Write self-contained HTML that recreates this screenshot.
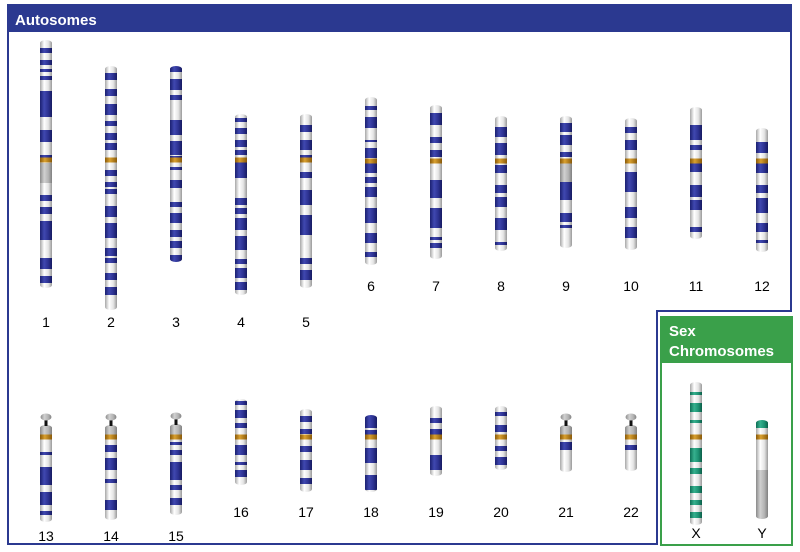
<!DOCTYPE html>
<html><head><meta charset="utf-8"><style>
html,body{margin:0;padding:0;background:#fff;}
svg{display:block;font-family:"Liberation Sans",sans-serif;}
</style></head><body>
<svg id="s" width="800" height="552" viewBox="0 0 800 552" xmlns="http://www.w3.org/2000/svg">
<defs>
<linearGradient id="gw" x1="0" x2="1" y1="0" y2="0"><stop offset="0" stop-color="#a8a8a8"/><stop offset="0.35" stop-color="#ffffff"/><stop offset="0.7" stop-color="#e4e4e4"/><stop offset="1" stop-color="#9a9a9a"/></linearGradient>
<linearGradient id="gb" x1="0" x2="1" y1="0" y2="0"><stop offset="0" stop-color="#1b2070"/><stop offset="0.35" stop-color="#4048b0"/><stop offset="0.7" stop-color="#2c3190"/><stop offset="1" stop-color="#161a60"/></linearGradient>
<linearGradient id="gg" x1="0" x2="1" y1="0" y2="0"><stop offset="0" stop-color="#0e6e55"/><stop offset="0.35" stop-color="#36b08e"/><stop offset="0.7" stop-color="#1c9172"/><stop offset="1" stop-color="#0c5e48"/></linearGradient>
<linearGradient id="gy" x1="0" x2="1" y1="0" y2="0"><stop offset="0" stop-color="#8a8a8a"/><stop offset="0.35" stop-color="#d0d0d0"/><stop offset="0.7" stop-color="#b4b4b4"/><stop offset="1" stop-color="#808080"/></linearGradient>
<linearGradient id="go" x1="0" x2="1" y1="0" y2="0"><stop offset="0" stop-color="#8a5a08"/><stop offset="0.4" stop-color="#d9a030"/><stop offset="1" stop-color="#8a5a08"/></linearGradient>
</defs>
<path d="M8,5 H791 V311 H657 V544 H8 Z" fill="none" stroke="#2b3990" stroke-width="2"/>
<rect x="8" y="5" width="783" height="27" fill="#2b3990"/>
<text x="15" y="25" fill="#fff" font-size="15" font-weight="bold">Autosomes</text>
<rect x="661" y="317" width="131" height="228" fill="none" stroke="#3aa04a" stroke-width="2"/>
<rect x="661" y="317" width="131" height="46" fill="#3aa04a"/>
<text x="669" y="336" fill="#fff" font-size="15" font-weight="bold">Sex</text>
<text x="669" y="356" fill="#fff" font-size="15" font-weight="bold">Chromosomes</text>
<g font-size="14" fill="#000" text-anchor="middle">
<text x="46" y="327">1</text><text x="111" y="327">2</text><text x="176" y="327">3</text><text x="241" y="327">4</text><text x="306" y="327">5</text>
<text x="371" y="291">6</text><text x="436" y="291">7</text><text x="501" y="291">8</text><text x="566" y="291">9</text><text x="631" y="291">10</text><text x="696" y="291">11</text><text x="762" y="291">12</text>
<text x="46" y="541">13</text><text x="111" y="541">14</text><text x="176" y="541">15</text>
<text x="241" y="517">16</text><text x="306" y="517">17</text><text x="371" y="517">18</text><text x="436" y="517">19</text><text x="501" y="517">20</text><text x="566" y="517">21</text><text x="631" y="517">22</text>
<text x="696" y="538">X</text><text x="762" y="538">Y</text>
</g>
<g id="chr"></g>
</svg>
<script>
var C=[
[46,40,288,160,[[48,53],[60,65],[69,72],[76,80],[91,117],[130,142],[155,158],[195,201],[207,214],[221,240],[258,269],[276,283]],[[163,183]]],
[111,66,310,160,[[73,80],[89,96],[104,115],[121,126],[133,140],[143,150],[170,176],[182,187],[189,194],[206,217],[223,238],[248,256],[258,263],[273,280],[287,295]]],
[176,66,262,160,[[66,72],[79,90],[95,100],[120,135],[141,155],[156,158],[167,170],[180,188],[202,207],[213,223],[230,237],[241,248],[255,262]]],
[241,114,295,160,[[118,122],[128,134],[140,147],[150,155],[162,178],[198,205],[208,214],[218,230],[236,250],[259,264],[268,278],[282,290]]],
[306,114,288,160,[[125,132],[140,150],[155,158],[172,178],[190,205],[215,235],[258,264],[270,280]]],
[371,97,265,161,[[106,110],[117,128],[140,142],[148,158],[163,173],[177,183],[187,197],[208,223],[233,243],[252,257]]],
[436,105,259,161,[[113,125],[137,143],[150,157],[180,198],[208,228],[237,240],[243,248]]],
[501,116,251,161,[[127,137],[143,155],[165,173],[185,193],[197,207],[218,230],[242,245]]],
[566,116,248,161,[[123,132],[135,145],[152,157],[182,200],[213,222],[225,228]],[[163,182]]],
[631,118,250,161,[[127,133],[140,150],[172,192],[207,218],[227,238]]],
[696,107,239,161,[[125,140],[145,150],[162,172],[185,197],[200,210],[227,232]]],
[762,128,252,161,[[142,153],[162,173],[185,193],[198,213],[223,232],[240,243]]],
[46,425,522,437,[[452,455],[467,485],[492,505],[511,515]],null,1],
[111,425,520,437,[[445,452],[458,470],[479,483],[500,510]],null,1],
[176,424,515,437,[[442,445],[450,455],[462,480],[485,490],[498,505]],null,1],
[241,399,485,437,[[401,405],[410,418],[423,428],[445,455],[462,465],[470,477]]],
[306,409,492,437,[[416,422],[429,434],[446,452],[460,470],[478,484]]],
[371,415,492,437,[[415,428],[430,435],[448,463],[475,490]]],
[436,406,476,437,[[418,423],[429,435],[455,470]]],
[501,406,470,437,[[412,416],[425,432],[446,451],[457,465]]],
[566,425,472,437,[[442,450]],null,1],
[631,425,471,437,[[445,450]],null,1],
[696,382,525,437,[[392,395],[403,412],[420,423],[448,462],[468,474],[486,493],[500,505],[512,518]],null,0,'gg'],
[762,420,519,437,[[420,428]],[[470,519]],0,'gg']
];
var ns="http://www.w3.org/2000/svg",g=document.getElementById('chr'),h='';
C.forEach(function(c,i){
 var x=c[0]-6,t=c[1],b=c[2],ce=c[3],col=c[7]||'gb';
 h+='<clipPath id="c'+i+'"><rect x="'+x+'" y="'+t+'" width="12" height="'+(b-t)+'" rx="6" ry="3"/></clipPath>';
 var s='<g clip-path="url(#c'+i+')"><rect x="'+x+'" y="'+t+'" width="12" height="'+(b-t)+'" fill="url(#gw)"/>';
 (c[5]||[]).forEach(function(r){s+='<rect x="'+x+'" y="'+r[0]+'" width="12" height="'+(r[1]-r[0])+'" fill="url(#gy)"/>';});
 c[4].forEach(function(r){s+='<rect x="'+x+'" y="'+r[0]+'" width="12" height="'+(r[1]-r[0])+'" fill="url(#'+col+')"/>';});
 if(c[6]){s+='<rect x="'+x+'" y="'+t+'" width="12" height="'+(ce-t-2)+'" fill="url(#gy)"/>';}
 s+='<rect x="'+x+'" y="'+(ce-2.5)+'" width="12" height="5" fill="url(#go)"/></g>';
 if(c[6]){s+='<rect x="'+(c[0]-1.5)+'" y="'+(t-6)+'" width="3" height="7" fill="#111"/><ellipse cx="'+c[0]+'" cy="'+(t-8)+'" rx="5.5" ry="3.5" fill="url(#gy)"/>';}
 h+=s;
});
g.innerHTML=h;
</script>
</body></html>
